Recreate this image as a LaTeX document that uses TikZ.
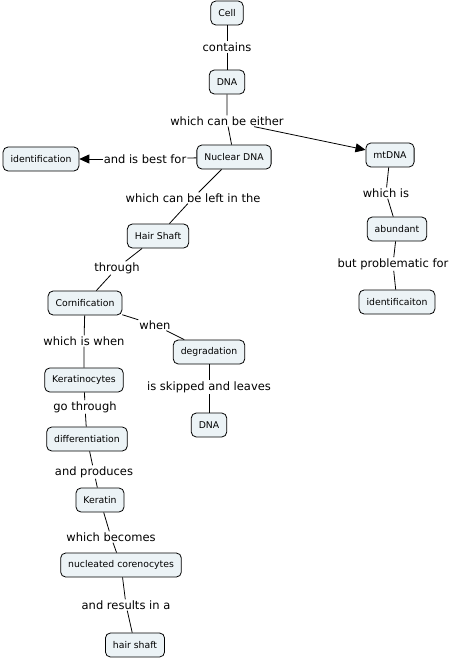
\documentclass[tikz,border=0pt]{standalone}
\usepackage{fontspec}
\setmainfont{DejaVu Sans}
\usetikzlibrary{arrows.meta}
\definecolor{conceptfill}{RGB}{236,243,246}

\tikzset{
  concept/.style={draw=black, line width=0.8pt, fill=conceptfill, rounded corners=5pt,
    minimum height=24pt, inner xsep=7.5pt, font=\fontsize{9.3}{11}\selectfont},
  linking/.style={inner sep=1pt, font=\fontsize{11.5}{13}\selectfont},
  link/.style={line width=0.8pt},
  linkarrow/.style={line width=0.8pt, -{Triangle[length=10pt,width=9pt]}}
}

\begin{document}
\begin{tikzpicture}[x=1pt, y=-1pt]
  \useasboundingbox (0,0) rectangle (454,660);

  %Define nodes
  \node[concept] (cell)       at (227,13)  {Cell};
  \node[concept] (dna)        at (227,82)  {DNA};
  \node[concept] (nuclear)    at (234,157) {Nuclear DNA};
  \node[concept] (ident)      at (41,159)  {identification};
  \node[concept] (mtdna)      at (390,155) {mtDNA};
  \node[concept] (abundant)   at (397,229) {abundant};
  \node[concept] (identb)     at (397,302) {identificaiton};
  \node[concept] (hairshaft)  at (158,236) {Hair Shaft};
  \node[concept] (cornif)     at (85,303)  {Cornification};
  \node[concept] (degrad)     at (209,352) {degradation};
  \node[concept] (dnab)       at (209,425) {DNA};
  \node[concept] (kerat)      at (84,380)  {Keratinocytes};
  \node[concept] (diff)       at (87,439)  {differentiation};
  \node[concept] (keratin)    at (100,500) {Keratin};
  \node[concept] (nucleated)  at (121,565) {nucleated corenocytes};
  \node[concept] (hairshaftb) at (135,645) {hair shaft};

  % Linking phrases
  \node[linking] (contains)  at (227,47)  {contains};
  \node[linking] (either)    at (227,121) {which can be either};
  \node[linking] (bestfor)   at (145,159) {and is best for};
  \node[linking] (leftin)    at (193,198) {which can be left in the};
  \node[linking] (whichis)   at (386,193) {which is};
  \node[linking] (problem)   at (393,264) {but problematic for};
  \node[linking] (through)   at (117,268) {through};
  \node[linking] (iswhen)    at (84,341)  {which is when};
  \node[linking] (when)      at (155,325) {when};
  \node[linking] (skipped)   at (209,387) {is skipped and leaves};
  \node[linking] (gothrough) at (85,407)  {go through};
  \node[linking] (produces)  at (94,472)  {and produces};
  \node[linking] (becomes)   at (111,537) {which becomes};
  \node[linking] (results)   at (126,605) {and results in a};

  % Connect the nodes
  \draw[link] (cell) -- (contains) -- (dna);
  \draw[link] (dna) -- (either) -- (nuclear);
  \draw[linkarrow] (either) -- (mtdna);
  \draw[link] (nuclear) -- (bestfor);
  \draw[linkarrow] (bestfor) -- (ident);
  \draw[link] (nuclear) -- (leftin) -- (hairshaft);
  \draw[link] (mtdna) -- (whichis) -- (abundant);
  \draw[link] (abundant) -- (problem) -- (identb);
  \draw[link] (hairshaft) -- (through) -- (cornif);
  \draw[link] (cornif) -- (iswhen) -- (kerat);
  \draw[link] (cornif) -- (when) -- (degrad);
  \draw[link] (degrad) -- (skipped) -- (dnab);
  \draw[link] (kerat) -- (gothrough) -- (diff);
  \draw[link] (diff) -- (produces) -- (keratin);
  \draw[link] (keratin) -- (becomes) -- (nucleated);
  \draw[link] (nucleated) -- (results) -- (hairshaftb);

\end{tikzpicture}
\end{document}
